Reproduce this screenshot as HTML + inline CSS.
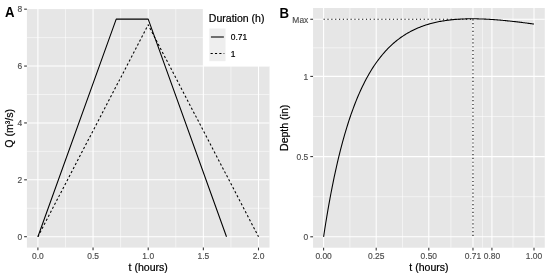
<!DOCTYPE html>
<html><head><meta charset="utf-8"><title>Hydrograph and depth-duration</title>
<style>
html,body{margin:0;padding:0;background:#fff;}
body{width:550px;height:275px;overflow:hidden;}
svg{display:block;}
text{font-family:"Liberation Sans",Arial,Helvetica,sans-serif;}
.tl{font-size:8.45px;fill:#4d4d4d;stroke:#4d4d4d;stroke-width:0.15;}
.tt{font-size:10.55px;fill:#000;stroke:#000;stroke-width:0.2;}
.lg{font-size:8.45px;fill:#000;stroke:#000;stroke-width:0.2;}
.tag{font-size:13.2px;font-weight:bold;fill:#000;}
.maj{stroke:#fff;stroke-width:1.07;fill:none;}
.min{stroke:#fff;stroke-width:0.53;fill:none;}
.tk{stroke:#333;stroke-width:1.07;fill:none;}
.ln{stroke:#000;stroke-width:1.07;fill:none;stroke-linejoin:round;}
</style></head><body>
<svg width="550" height="275" viewBox="0 0 550 275">
<rect x="0" y="0" width="550" height="275" fill="#ffffff"/>

<g id="panelA">
<rect x="26.9" y="9.1" width="242.60" height="238.50" fill="#e6e6e6"/>
<line class="min" x1="26.9" x2="269.5" y1="208.26" y2="208.26"/>
<line class="min" x1="26.9" x2="269.5" y1="151.38" y2="151.38"/>
<line class="min" x1="26.9" x2="269.5" y1="94.50" y2="94.50"/>
<line class="min" x1="26.9" x2="269.5" y1="37.62" y2="37.62"/>
<line class="min" y1="9.1" y2="247.6" x1="65.47" x2="65.47"/>
<line class="min" y1="9.1" y2="247.6" x1="120.62" x2="120.62"/>
<line class="min" y1="9.1" y2="247.6" x1="175.78" x2="175.78"/>
<line class="min" y1="9.1" y2="247.6" x1="230.93" x2="230.93"/>
<line class="maj" x1="26.9" x2="269.5" y1="236.70" y2="236.70"/>
<line class="maj" x1="26.9" x2="269.5" y1="179.82" y2="179.82"/>
<line class="maj" x1="26.9" x2="269.5" y1="122.94" y2="122.94"/>
<line class="maj" x1="26.9" x2="269.5" y1="66.06" y2="66.06"/>
<line class="maj" y1="9.1" y2="247.6" x1="37.90" x2="37.90"/>
<line class="maj" y1="9.1" y2="247.6" x1="93.05" x2="93.05"/>
<line class="maj" y1="9.1" y2="247.6" x1="148.20" x2="148.20"/>
<line class="maj" y1="9.1" y2="247.6" x1="203.35" x2="203.35"/>
<line class="maj" y1="9.1" y2="247.6" x1="258.50" x2="258.50"/>
<polyline class="ln" points="37.90,236.70 116.21,19.13 148.20,19.13 226.51,236.70"/>
<polyline class="ln" stroke-dasharray="2.25 2.24" points="37.90,236.70 148.20,24.82 258.50,236.70"/>
<rect x="203.0" y="0" width="72.00" height="66.2" fill="#fff"/>
<text class="tt" transform="translate(208.80,22.30) scale(1,1.09)">Duration (h)</text>
<rect x="209.3" y="28.5" width="16.2" height="32.7" fill="#eeeeee"/>
<line class="ln" x1="210.92" x2="223.88" y1="37.0" y2="37.0"/>
<line class="ln" stroke-dasharray="2.15 2.2" x1="210.6" x2="224.3" y1="53.5" y2="53.5"/>
<text class="lg" transform="translate(230.80,40.10) scale(1,1.09)">0.71</text>
<text class="lg" transform="translate(230.80,56.60) scale(1,1.09)">1</text>
<line class="tk" x1="24.15" x2="26.9" y1="236.70" y2="236.70"/>
<text class="tl" text-anchor="end" transform="translate(22.10,239.95) scale(1,1.09)">0</text>
<line class="tk" x1="24.15" x2="26.9" y1="179.82" y2="179.82"/>
<text class="tl" text-anchor="end" transform="translate(22.10,183.07) scale(1,1.09)">2</text>
<line class="tk" x1="24.15" x2="26.9" y1="122.94" y2="122.94"/>
<text class="tl" text-anchor="end" transform="translate(22.10,126.19) scale(1,1.09)">4</text>
<line class="tk" x1="24.15" x2="26.9" y1="66.06" y2="66.06"/>
<text class="tl" text-anchor="end" transform="translate(22.10,69.31) scale(1,1.09)">6</text>
<line class="tk" x1="24.15" x2="26.9" y1="9.18" y2="9.18"/>
<text class="tl" text-anchor="end" transform="translate(22.10,12.43) scale(1,1.09)">8</text>
<line class="tk" y1="247.6" y2="250.35" x1="37.90" x2="37.90"/>
<text class="tl" text-anchor="middle" transform="translate(37.90,258.80) scale(1,1.14)">0.0</text>
<line class="tk" y1="247.6" y2="250.35" x1="93.05" x2="93.05"/>
<text class="tl" text-anchor="middle" transform="translate(93.05,258.80) scale(1,1.14)">0.5</text>
<line class="tk" y1="247.6" y2="250.35" x1="148.20" x2="148.20"/>
<text class="tl" text-anchor="middle" transform="translate(148.20,258.80) scale(1,1.14)">1.0</text>
<line class="tk" y1="247.6" y2="250.35" x1="203.35" x2="203.35"/>
<text class="tl" text-anchor="middle" transform="translate(203.35,258.80) scale(1,1.14)">1.5</text>
<line class="tk" y1="247.6" y2="250.35" x1="258.50" x2="258.50"/>
<text class="tl" text-anchor="middle" transform="translate(258.50,258.80) scale(1,1.14)">2.0</text>
<text class="tt" text-anchor="middle" transform="translate(148.20,271.00) scale(1,1.09)">t (hours)</text>
<text class="tt" text-anchor="middle" transform="translate(12.80,128.35) rotate(-90) scale(1,1.09)">Q (m³/s)</text>
<text class="tag" transform="translate(5.00,17.45) scale(1,1.04)">A</text>
</g>
<g id="panelB">
<rect x="313.05" y="8.0" width="231.75" height="239.70" fill="#e6e6e6"/>
<line class="min" x1="313.05" x2="544.8" y1="196.70" y2="196.70"/>
<line class="min" x1="313.05" x2="544.8" y1="116.50" y2="116.50"/>
<line class="min" x1="313.05" x2="544.8" y1="47.83" y2="47.83"/>
<line class="min" y1="8.0" y2="247.7" x1="349.90" x2="349.90"/>
<line class="min" y1="8.0" y2="247.7" x1="402.50" x2="402.50"/>
<line class="min" y1="8.0" y2="247.7" x1="450.89" x2="450.89"/>
<line class="min" y1="8.0" y2="247.7" x1="482.45" x2="482.45"/>
<line class="min" y1="8.0" y2="247.7" x1="512.96" x2="512.96"/>
<line class="maj" x1="313.05" x2="544.8" y1="236.80" y2="236.80"/>
<line class="maj" x1="313.05" x2="544.8" y1="156.60" y2="156.60"/>
<line class="maj" x1="313.05" x2="544.8" y1="76.40" y2="76.40"/>
<line class="maj" x1="313.05" x2="544.8" y1="19.27" y2="19.27"/>
<line class="maj" y1="8.0" y2="247.7" x1="323.60" x2="323.60"/>
<line class="maj" y1="8.0" y2="247.7" x1="376.20" x2="376.20"/>
<line class="maj" y1="8.0" y2="247.7" x1="428.80" x2="428.80"/>
<line class="maj" y1="8.0" y2="247.7" x1="472.98" x2="472.98"/>
<line class="maj" y1="8.0" y2="247.7" x1="491.92" x2="491.92"/>
<line class="maj" y1="8.0" y2="247.7" x1="534.00" x2="534.00"/>
<polyline class="ln" points="323.60,236.80 324.65,229.93 325.70,223.29 326.76,216.87 327.81,210.67 328.86,204.67 329.91,198.86 330.96,193.25 332.02,187.82 333.07,182.57 334.12,177.48 335.17,172.56 336.22,167.79 337.28,163.18 338.33,158.71 339.38,154.38 340.43,150.18 341.48,146.12 342.54,142.18 343.59,138.36 344.64,134.66 345.69,131.07 346.74,127.59 347.80,124.22 348.85,120.95 349.90,117.78 350.95,114.70 352.00,111.71 353.06,108.82 354.11,106.01 355.16,103.28 356.21,100.63 357.26,98.07 358.32,95.57 359.37,93.15 360.42,90.81 361.47,88.53 362.52,86.31 363.58,84.16 364.63,82.07 365.68,80.05 366.73,78.08 367.78,76.17 368.84,74.31 369.89,72.51 370.94,70.76 371.99,69.06 373.04,67.41 374.10,65.81 375.15,64.25 376.20,62.74 377.25,61.27 378.30,59.84 379.36,58.46 380.41,57.11 381.46,55.80 382.51,54.53 383.56,53.30 384.62,52.10 385.67,50.94 386.72,49.81 387.77,48.71 388.82,47.65 389.88,46.61 390.93,45.61 391.98,44.63 393.03,43.69 394.08,42.77 395.14,41.88 396.19,41.01 397.24,40.17 398.29,39.36 399.34,38.57 400.40,37.80 401.45,37.05 402.50,36.33 403.55,35.63 404.60,34.95 405.66,34.30 406.71,33.66 407.76,33.04 408.81,32.44 409.86,31.86 410.92,31.30 411.97,30.75 413.02,30.23 414.07,29.72 415.12,29.22 416.18,28.75 417.23,28.28 418.28,27.84 419.33,27.40 420.38,26.99 421.44,26.58 422.49,26.19 423.54,25.82 424.59,25.46 425.64,25.11 426.70,24.77 427.75,24.44 428.80,24.13 429.85,23.83 430.90,23.54 431.96,23.26 433.01,22.99 434.06,22.73 435.11,22.49 436.16,22.25 437.22,22.02 438.27,21.81 439.32,21.60 440.37,21.40 441.42,21.21 442.48,21.03 443.53,20.85 444.58,20.69 445.63,20.53 446.68,20.38 447.74,20.24 448.79,20.11 449.84,19.99 450.89,19.87 451.94,19.76 453.00,19.65 454.05,19.56 455.10,19.47 456.15,19.38 457.20,19.30 458.26,19.23 459.31,19.17 460.36,19.11 461.41,19.05 462.46,19.00 463.52,18.96 464.57,18.93 465.62,18.89 466.67,18.87 467.72,18.84 468.78,18.83 469.83,18.82 470.88,18.81 471.93,18.81 472.98,18.81 474.04,18.81 475.09,18.82 476.14,18.84 477.19,18.86 478.24,18.88 479.30,18.91 480.35,18.94 481.40,18.97 482.45,19.01 483.50,19.05 484.56,19.10 485.61,19.15 486.66,19.20 487.71,19.26 488.76,19.31 489.82,19.38 490.87,19.44 491.92,19.51 492.97,19.58 494.02,19.65 495.08,19.73 496.13,19.81 497.18,19.89 498.23,19.98 499.28,20.06 500.34,20.15 501.39,20.25 502.44,20.34 503.49,20.44 504.54,20.54 505.60,20.64 506.65,20.74 507.70,20.85 508.75,20.96 509.80,21.07 510.86,21.18 511.91,21.29 512.96,21.41 514.01,21.52 515.06,21.64 516.12,21.77 517.17,21.89 518.22,22.01 519.27,22.14 520.32,22.27 521.38,22.40 522.43,22.53 523.48,22.66 524.53,22.80 525.58,22.93 526.64,23.07 527.69,23.21 528.74,23.35 529.79,23.49 530.84,23.63 531.90,23.77 532.95,23.92 534.00,24.06"/>
<line class="ln" stroke-dasharray="1.15 2.7" x1="323.60" x2="472.98" y1="19.27" y2="19.27"/>
<line class="ln" stroke-dasharray="1.15 2.7" x1="472.98" x2="472.98" y1="19.27" y2="236.80"/>
<line class="tk" x1="310.30" x2="313.05" y1="236.80" y2="236.80"/>
<text class="tl" text-anchor="end" transform="translate(308.30,240.05) scale(1,1.09)">0</text>
<line class="tk" x1="310.30" x2="313.05" y1="156.60" y2="156.60"/>
<text class="tl" text-anchor="end" transform="translate(308.30,159.85) scale(1,1.09)">0.5</text>
<line class="tk" x1="310.30" x2="313.05" y1="76.40" y2="76.40"/>
<text class="tl" text-anchor="end" transform="translate(308.30,79.65) scale(1,1.09)">1</text>
<line class="tk" x1="310.30" x2="313.05" y1="19.27" y2="19.27"/>
<text class="tl" text-anchor="end" transform="translate(308.30,22.52) scale(1,1.09)">Max</text>
<line class="tk" y1="247.7" y2="250.45" x1="323.60" x2="323.60"/>
<text class="tl" text-anchor="middle" transform="translate(323.60,258.80) scale(1,1.14)">0.00</text>
<line class="tk" y1="247.7" y2="250.45" x1="376.20" x2="376.20"/>
<text class="tl" text-anchor="middle" transform="translate(376.20,258.80) scale(1,1.14)">0.25</text>
<line class="tk" y1="247.7" y2="250.45" x1="428.80" x2="428.80"/>
<text class="tl" text-anchor="middle" transform="translate(428.80,258.80) scale(1,1.14)">0.50</text>
<line class="tk" y1="247.7" y2="250.45" x1="472.98" x2="472.98"/>
<text class="tl" text-anchor="middle" transform="translate(472.98,258.80) scale(1,1.14)">0.71</text>
<line class="tk" y1="247.7" y2="250.45" x1="491.92" x2="491.92"/>
<text class="tl" text-anchor="middle" transform="translate(491.92,258.80) scale(1,1.14)">0.80</text>
<line class="tk" y1="247.7" y2="250.45" x1="534.00" x2="534.00"/>
<text class="tl" text-anchor="middle" transform="translate(534.00,258.80) scale(1,1.14)">1.00</text>
<text class="tt" text-anchor="middle" transform="translate(428.92,271.00) scale(1,1.09)">t (hours)</text>
<text class="tt" text-anchor="middle" transform="translate(287.50,127.85) rotate(-90) scale(1,1.09)">Depth (in)</text>
<text class="tag" transform="translate(279.60,17.55) scale(1,1.04)">B</text>
</g>
</svg>
</body></html>
